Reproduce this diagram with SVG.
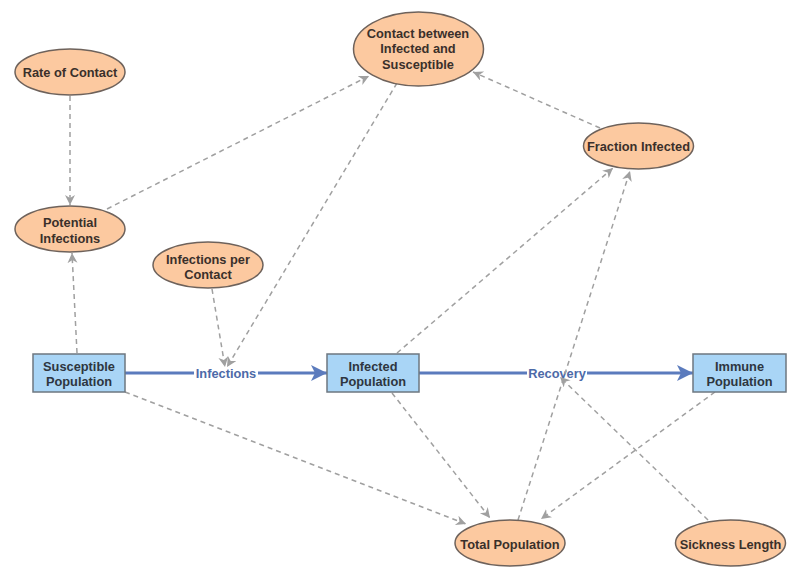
<svg xmlns="http://www.w3.org/2000/svg" width="800" height="578" viewBox="0 0 800 578">
<style>
.var ellipse{fill:#fcc9a0;stroke:#6e625b;stroke-width:1.5}
.stock rect{fill:#a9d5f6;stroke:#6d7780;stroke-width:1.5}
text{font-family:"Liberation Sans",Arial,Helvetica,sans-serif;font-weight:bold;font-size:12.8px;text-anchor:middle;dominant-baseline:central;fill:#3a302b}
.stock text{fill:#2e3640}
.link{fill:none;stroke:#a0a0a0;stroke-width:1.5;stroke-dasharray:5 4}
.flow{fill:none;stroke:#5b7bbd;stroke-width:3}
.flowlabel{fill:#4d6aa8}
</style>
<defs>
<marker id="ah" markerUnits="userSpaceOnUse" markerWidth="12" markerHeight="12" refX="10" refY="5" orient="auto">
<path d="M0,0 L10,5 L0,10 L3,5 Z" fill="#a0a0a0"/>
</marker>
<marker id="fh" markerUnits="userSpaceOnUse" markerWidth="18" markerHeight="18" refX="16" refY="8" orient="auto">
<path d="M0,0 L16,8 L0,16 L4,8 Z" fill="#5b7bbd"/>
</marker>
</defs>
<rect width="800" height="578" fill="#fff"/>
<g id="connectors">
<line class="flow" x1="125" y1="373" x2="327" y2="373" marker-end="url(#fh)"/>
<line class="flow" x1="419" y1="373" x2="693" y2="373" marker-end="url(#fh)"/>
<rect x="194" y="365" width="64" height="15" fill="#fff"/>
<text class="flowlabel" x="226" y="373">Infections</text>
<rect x="527" y="365" width="60" height="15" fill="#fff"/>
<text class="flowlabel" x="557" y="373">Recovery</text>
<line class="link" x1="70" y1="96" x2="70" y2="205" marker-end="url(#ah)"/>
<line class="link" x1="77" y1="353" x2="72" y2="253" marker-end="url(#ah)"/>
<line class="link" x1="107" y1="209" x2="369" y2="76" marker-end="url(#ah)"/>
<line class="link" x1="397" y1="83" x2="227" y2="367" marker-end="url(#ah)"/>
<line class="link" x1="212" y1="289" x2="225" y2="367" marker-end="url(#ah)"/>
<line class="link" x1="600" y1="128" x2="473" y2="72" marker-end="url(#ah)"/>
<line class="link" x1="397" y1="353" x2="613" y2="168" marker-end="url(#ah)"/>
<line class="link" x1="518" y1="520" x2="630" y2="171" marker-end="url(#ah)"/>
<line class="link" x1="125" y1="392" x2="466" y2="524" marker-end="url(#ah)"/>
<line class="link" x1="392" y1="393" x2="490" y2="518" marker-end="url(#ah)"/>
<line class="link" x1="715" y1="392" x2="541" y2="519" marker-end="url(#ah)"/>
<line class="link" x1="708" y1="520" x2="560" y2="377" marker-end="url(#ah)"/>
</g>
<g id="rate-of-contact" class="var"><ellipse cx="70" cy="72" rx="55" ry="23"/><text x="70" y="72">Rate of Contact</text></g>
<g id="potential-infections" class="var"><ellipse cx="70" cy="229" rx="55" ry="23"/><text x="70" y="222">Potential</text><text x="70" y="238">Infections</text></g>
<g id="infections-per-contact" class="var"><ellipse cx="208" cy="265" rx="55" ry="23"/><text x="208" y="259">Infections per</text><text x="208" y="274">Contact</text></g>
<g id="contact-between" class="var"><ellipse cx="418.5" cy="49" rx="65" ry="37"/><text x="418" y="33">Contact between</text><text x="418" y="48">Infected and</text><text x="418" y="64">Susceptible</text></g>
<g id="fraction-infected" class="var"><ellipse cx="638.5" cy="146" rx="55" ry="23"/><text x="638.5" y="146">Fraction Infected</text></g>
<g id="total-population" class="var"><ellipse cx="510" cy="543" rx="55" ry="23"/><text x="510" y="544">Total Population</text></g>
<g id="sickness-length" class="var"><ellipse cx="730.5" cy="543" rx="55" ry="23"/><text x="730.5" y="544">Sickness Length</text></g>
<g id="susceptible-population" class="stock"><rect x="33" y="354" width="92" height="38"/><text x="79" y="366">Susceptible</text><text x="79" y="381">Population</text></g>
<g id="infected-population" class="stock"><rect x="327" y="354" width="92" height="38"/><text x="373" y="366">Infected</text><text x="373" y="381">Population</text></g>
<g id="immune-population" class="stock"><rect x="693" y="354" width="93" height="38"/><text x="739.5" y="366">Immune</text><text x="739.5" y="381">Population</text></g>
</svg>
